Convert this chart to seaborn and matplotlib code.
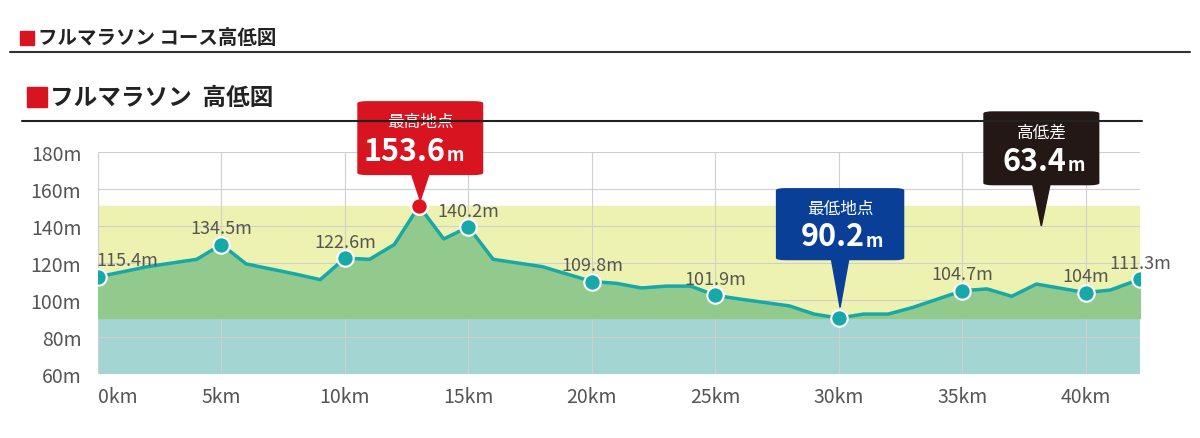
import seaborn as sns
import matplotlib.pyplot as plt
import pandas as pd
from matplotlib.patches import FancyBboxPatch, Rectangle

sns.set_style('white')
plt.rcParams['font.family'] = ['Noto Sans CJK JP', 'DejaVu Sans']

km = [0, 2, 4, 5, 6, 8, 9, 10, 11, 12, 13, 14, 15, 16, 18, 20, 21, 22, 23, 24, 25,
      26, 28, 29, 30, 31, 32, 33, 35, 36, 37, 38, 40, 41, 42.195]
alt = [112.5, 118, 122, 130, 119.5, 114, 111, 122.6, 122, 130, 150.8, 133, 139.5, 122,
       118, 110, 109, 106.5, 107.5, 107.5, 102.5, 100.5, 96.8, 92.4, 90.2, 92.4, 92.4,
       96, 105, 106, 102, 108.6, 104, 105.4, 111.3]
mark_km = [0, 5, 10, 13, 15, 20, 25, 30, 35, 40, 42.195]
mark_lbl = ['115.4m', '134.5m', '122.6m', '', '140.2m', '109.8m', '101.9m', '', '104.7m', '104m', '111.3m']
low, high = 90.2, 153.6

df = pd.DataFrame({'km': km, 'alt': alt})
marks = df[df.km.isin(mark_km)]
teal = '#17a8a8'

fig = plt.figure(figsize=(12, 4.39), dpi=100)
ax = fig.add_axes([98 / 1200, 1 - 375 / 439, 1042 / 1200, 222 / 439])
ax.set_xlim(0, 42.195)
ax.set_ylim(60, 180)

ax.axhspan(60, low, color='#a3d6d2', zorder=0)
ax.axhspan(low, 150.8, color='#eef2b0', zorder=0)
ax.fill_between(df.km, low, df.alt, color='#92c98c', zorder=1)
for y in range(60, 181, 20):
    ax.axhline(y, color='#cfcfcf', lw=0.8, zorder=0.5)
for x in range(0, 45, 5):
    ax.axvline(x, color='#cfcfcf', lw=0.8, zorder=0.5)
sns.lineplot(data=df, x='km', y='alt', color=teal, lw=2.5, ax=ax, zorder=3)
ax.scatter(marks.km, marks.alt, s=140, color=teal, edgecolor='white', lw=1.5, zorder=4)
top = df.loc[df.alt.idxmax()]
ax.scatter([top.km], [top.alt], s=140, color='#e0141e', edgecolor='white', lw=1.5, zorder=5)
for i, ((_, r), t) in enumerate(zip(marks.iterrows(), mark_lbl)):
    if t:
        dx = 1.2 if i == 0 else 0
        ax.text(r.km + dx, r.alt + 4, t, ha='center', va='bottom', fontsize=13, color='#555555',
                zorder=6, clip_on=False)

ax.set_xticks(range(0, 45, 5))
ax.set_xticklabels([f'{x}km' for x in range(0, 45, 5)])
ax.get_xticklabels()[0].set_ha('left')
ax.set_yticks(range(60, 181, 20))
ax.set_yticklabels([f'{y}m' for y in range(60, 181, 20)])
ax.tick_params(labelsize=14, colors='#555555', length=0)
ax.tick_params(axis='y', pad=12)
ax.tick_params(axis='x', pad=9)
ax.set_xlabel('')
ax.set_ylabel('')
for s in ax.spines.values():
    s.set_visible(False)


def callout(cx, cy, w, h, tip_y, color, title, value):
    ax.add_patch(FancyBboxPatch((cx - w / 2, cy - h / 2), w, h, boxstyle='round,pad=0,rounding_size=0.4',
                                fc=color, ec='none', clip_on=False, zorder=7, mutation_aspect=3))
    ax.fill([cx - 0.35, cx + 0.35, cx], [cy - h / 2 + 0.5, cy - h / 2 + 0.5, tip_y],
            color=color, clip_on=False, zorder=7)
    ax.text(cx, cy + h * 0.22, title, ha='center', va='center', color='white', fontsize=12,
            zorder=8, clip_on=False)
    ax.text(cx + 1.0, cy - h * 0.17, value, ha='right', va='center', color='white', fontsize=22,
            fontweight='bold', zorder=8, clip_on=False)
    ax.text(cx + 1.05, cy - h * 0.22, 'm', ha='left', va='center', color='white', fontsize=13,
            fontweight='bold', zorder=8, clip_on=False)


callout(13.05, 187.5, 5.1, 40, top.alt + 3, '#d7141f', '最高地点', f'{high}')
callout(30.05, 141, 5.2, 39, 96, '#0a3f97', '最低地点', f'{low}')
callout(38.2, 182, 4.7, 40, 140, '#231815', '高低差', f'{high - low:.1f}')

# headers
fig.add_artist(Rectangle((20 / 1200, 1 - 46 / 439), 14 / 1200, 14 / 439, color='#d7141f',
                         transform=fig.transFigure))
fig.text(38 / 1200, 1 - 38 / 439, 'フルマラソン コース高低図', fontsize=14, fontweight='bold',
         va='center', color='#222222')
fig.add_artist(plt.Line2D([10 / 1200, 1190 / 1200], [1 - 53 / 439] * 2, color='#333333', lw=1.5,
                          transform=fig.transFigure))
fig.add_artist(Rectangle((27 / 1200, 1 - 108 / 439), 20 / 1200, 20 / 439, color='#d7141f',
                         transform=fig.transFigure))
fig.text(50 / 1200, 1 - 98 / 439, 'フルマラソン  高低図', fontsize=17, fontweight='bold',
         va='center', color='#222222')
fig.add_artist(plt.Line2D([22 / 1200, 1142 / 1200], [1 - 122 / 439] * 2, color='#222222', lw=1.5,
                          transform=fig.transFigure))

fig.savefig('out.png', dpi=100)
